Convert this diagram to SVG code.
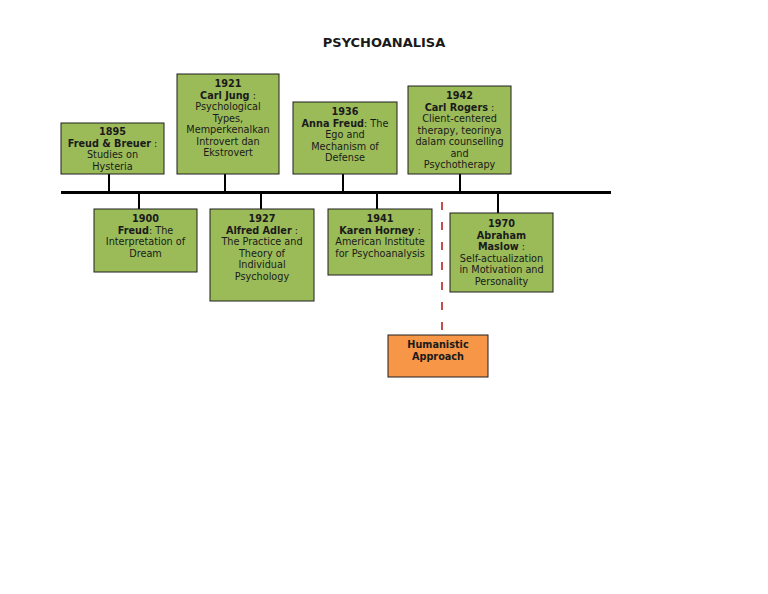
<svg xmlns="http://www.w3.org/2000/svg" width="768" height="594" viewBox="0 0 768 594">
<style>
.g{fill:#9bbb59;stroke:#1e1e1e;stroke-width:1}
.o{fill:#f79646;stroke:#1e1e1e;stroke-width:1}
text{font-family:"DejaVu Sans",sans-serif;font-size:9.7px;fill:#1a1a1a;text-anchor:middle}
.b{font-weight:bold}
.t{font-size:13px;font-weight:bold}
.c{stroke:#000;stroke-width:2;fill:none}
</style>
<rect width="768" height="594" fill="#fff"/>
<text class="t" x="384" y="47">PSYCHOANALISA</text>
<g id="connectors">
<line class="c" x1="61" y1="192.5" x2="611" y2="192.5" style="stroke-width:3"/>
<line class="c" x1="109" y1="174" x2="109" y2="192"/>
<line class="c" x1="225" y1="174" x2="225" y2="192"/>
<line class="c" x1="343" y1="174" x2="343" y2="192"/>
<line class="c" x1="460" y1="174" x2="460" y2="192"/>
<line class="c" x1="139" y1="193" x2="139" y2="209"/>
<line class="c" x1="261" y1="193" x2="261" y2="209"/>
<line class="c" x1="377" y1="193" x2="377" y2="209"/>
<line class="c" x1="498" y1="193" x2="498" y2="213"/>
<line x1="442" y1="202" x2="442" y2="335" stroke="#c0504d" stroke-width="2" stroke-dasharray="8,12"/>
</g>
<g id="n1895"><rect class="g" x="61" y="123" width="103" height="51"/>
<text x="112.5" y="135"><tspan class="b">1895</tspan><tspan x="112.5" dy="11.5"><tspan class="b">Freud &amp; Breuer</tspan> :</tspan><tspan x="112.5" dy="11.5">Studies on</tspan><tspan x="112.5" dy="11.5">Hysteria</tspan></text></g>
<g id="n1921"><rect class="g" x="177" y="74" width="102" height="100"/>
<text x="228" y="87"><tspan class="b">1921</tspan><tspan x="228" dy="11.5"><tspan class="b">Carl Jung</tspan> :</tspan><tspan x="228" dy="11.5">Psychological</tspan><tspan x="228" dy="11.5">Types,</tspan><tspan x="228" dy="11.5">Memperkenalkan</tspan><tspan x="228" dy="11.5">Introvert dan</tspan><tspan x="228" dy="11.5">Ekstrovert</tspan></text></g>
<g id="n1936"><rect class="g" x="293" y="102" width="104" height="72"/>
<text x="345" y="115"><tspan class="b">1936</tspan><tspan x="345" dy="11.5"><tspan class="b">Anna Freud</tspan>: The</tspan><tspan x="345" dy="11.5">Ego and</tspan><tspan x="345" dy="11.5">Mechanism of</tspan><tspan x="345" dy="11.5">Defense</tspan></text></g>
<g id="n1942"><rect class="g" x="408" y="86" width="103" height="88"/>
<text x="459.5" y="99"><tspan class="b">1942</tspan><tspan x="459.5" dy="11.5"><tspan class="b">Carl Rogers</tspan> :</tspan><tspan x="459.5" dy="11.5">Client-centered</tspan><tspan x="459.5" dy="11.5">therapy, teorinya</tspan><tspan x="459.5" dy="11.5">dalam counselling</tspan><tspan x="459.5" dy="11.5">and</tspan><tspan x="459.5" dy="11.5">Psychotherapy</tspan></text></g>
<g id="n1900"><rect class="g" x="94" y="209" width="103" height="63"/>
<text x="145.5" y="222"><tspan class="b">1900</tspan><tspan x="145.5" dy="11.5"><tspan class="b">Freud</tspan>: The</tspan><tspan x="145.5" dy="11.5">Interpretation of</tspan><tspan x="145.5" dy="11.5">Dream</tspan></text></g>
<g id="n1927"><rect class="g" x="210" y="209" width="104" height="92"/>
<text x="262" y="222"><tspan class="b">1927</tspan><tspan x="262" dy="11.5"><tspan class="b">Alfred Adler</tspan> :</tspan><tspan x="262" dy="11.5">The Practice and</tspan><tspan x="262" dy="11.5">Theory of</tspan><tspan x="262" dy="11.5">Individual</tspan><tspan x="262" dy="11.5">Psychology</tspan></text></g>
<g id="n1941"><rect class="g" x="328" y="209" width="104" height="66"/>
<text x="380" y="222"><tspan class="b">1941</tspan><tspan x="380" dy="11.5"><tspan class="b">Karen Horney</tspan> :</tspan><tspan x="380" dy="11.5">American Institute</tspan><tspan x="380" dy="11.5">for Psychoanalysis</tspan></text></g>
<g id="n1970"><rect class="g" x="450" y="213" width="103" height="79"/>
<text x="501.5" y="227"><tspan class="b">1970</tspan><tspan x="501.5" dy="11.5" class="b">Abraham</tspan><tspan x="501.5" dy="11.5"><tspan class="b">Maslow</tspan> :</tspan><tspan x="501.5" dy="11.5">Self-actualization</tspan><tspan x="501.5" dy="11.5">in Motivation and</tspan><tspan x="501.5" dy="11.5">Personality</tspan></text></g>
<g id="humanistic"><rect class="o" x="388" y="335" width="100" height="42"/>
<text class="b" x="438" y="348"><tspan>Humanistic</tspan><tspan x="438" dy="11.5">Approach</tspan></text></g>
</svg>
